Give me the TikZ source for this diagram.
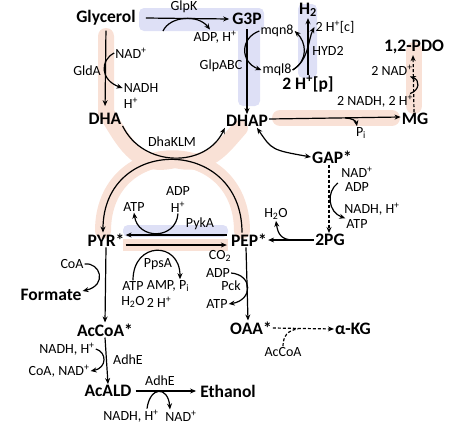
\documentclass[tikz,border=0pt]{standalone}
\usepackage{fontspec}
\setmainfont{Carlito}
\usetikzlibrary{arrows.meta}
\definecolor{hlblue}{RGB}{222,224,246}
\definecolor{hlpink}{RGB}{249,225,214}
\tikzset{
  mainlbl/.style={font=\bfseries\fontsize{17.5}{18}\selectfont, inner sep=1pt},
  smlbl/.style={font=\fontsize{14}{15}\selectfont, inner sep=1pt},
  arr/.style={-{Stealth[length=6pt,width=5pt]}, line width=1.2pt},
  dbl/.style={{Stealth[length=6pt,width=5pt]}-{Stealth[length=6pt,width=5pt]}, line width=1.2pt},
  dsh/.style={arr, dash pattern=on 3pt off 2pt},
  pinkhl/.style={draw=hlpink, line width=16pt, line cap=round},
  bluehl/.style={fill=hlblue, draw=none, rounded corners=5pt},
}
\begin{document}
\begin{tikzpicture}[x=1pt,y=-1pt]
\useasboundingbox (0,0) rectangle (474,440);
% ---------- highlights ----------
\fill[bluehl] (139,8) rectangle (264,31);
\fill[bluehl] (238,8) rectangle (260,106);
\fill[bluehl] (298,4) rectangle (317,78);
\fill[bluehl] (123,225) rectangle (228,237);
\draw[pinkhl] (106,36) -- (106,112) .. controls (128,150) and (140,168) .. (175,160) .. controls (210,168) and (222,148) .. (240,128);
\draw[pinkhl] (242,231) .. controls (242,134) and (103,134) .. (103,231);
\draw[pinkhl] (280,118) -- (392,118);
\draw[pinkhl] (414,50) -- (414,106);
\fill[hlpink] (123,239) rectangle (228,251);
% ---------- main nodes ----------
\node[mainlbl] (gly) at (106,18) {Glycerol};
\node[mainlbl] (g3p) at (247,19) {G3P};
\node[mainlbl] (h2) at (308,10) {H\textsubscript{2}};
\node[mainlbl] (hp) at (308,84) {2 H\textsuperscript{+}[p]};
\node[mainlbl] (pdo) at (414,47) {1,2-PDO};
\node[mainlbl] (dha) at (105,119) {DHA};
\node[mainlbl] (dhap) at (247,121) {DHAP};
\node[mainlbl] (mg) at (415,119) {MG};
\node[mainlbl] (gap) at (332,157) {GAP*};
\node[mainlbl] (pyr) at (106,240) {PYR*};
\node[mainlbl] (pep) at (249,240) {PEP*};
\node[mainlbl] (pg) at (330,240) {2PG};
\node[mainlbl] (formate) at (51,295) {Formate};
\node[mainlbl] (accoa) at (105,330) {AcCoA*};
\node[mainlbl] (oaa) at (251,328) {OAA*};
\node[mainlbl] (akg) at (353,329) {α-KG};
\node[mainlbl] (acald) at (108,391) {AcALD};
\node[mainlbl] (ethanol) at (228,391) {Ethanol};
% ---------- small labels ----------
\node[smlbl] (glpk) at (184,7) {GlpK};
\node[smlbl] (adph1) at (215,37) {ADP, H\textsuperscript{+}};
\node[smlbl] (mqn) at (277,31) {mqn8};
\node[smlbl] (mql) at (277,70) {mql8};
\node[smlbl] (glpabc) at (221,66) {GlpABC};
\node[smlbl] (hc) at (335,27) {2 H\textsuperscript{+}[c]};
\node[smlbl] (hyd) at (328,51) {HYD2};
\node[smlbl] (nad1) at (131,53) {NAD\textsuperscript{+}};
\node[smlbl] (glda) at (87,71) {GldA};
\node[smlbl] (nadh1) at (141,88) {NADH};
\node[smlbl] (h1) at (131,103) {H\textsuperscript{+}};
\node[smlbl] (dhaklm) at (172,142) {DhaKLM};
\node[smlbl] (pi1) at (361,133) {P\textsubscript{i}};
\node[smlbl] (nad2) at (392,70) {2 NAD\textsuperscript{+}};
\node[smlbl] (nadh2) at (375,101) {2 NADH, 2 H\textsuperscript{+}};
\node[smlbl] (nad3) at (357,172) {NAD\textsuperscript{+}};
\node[smlbl] (adp3) at (357,187) {ADP};
\node[smlbl] (nadh3) at (372,209) {NADH, H\textsuperscript{+}};
\node[smlbl] (atp3) at (357,224) {ATP};
\node[smlbl] (h2o1) at (276,214) {H\textsubscript{2}O};
\node[smlbl] (adp4) at (178,191) {ADP};
\node[smlbl] (h4) at (178,207) {H\textsuperscript{+}};
\node[smlbl] (atp4) at (134,207) {ATP};
\node[smlbl] (pyka) at (200,224) {PykA};
\node[smlbl] (ppsa) at (158,264) {PpsA};
\node[smlbl] (atp5) at (133,286) {ATP};
\node[smlbl] (amp) at (168,286) {AMP, P\textsubscript{i}};
\node[smlbl] (h2o5) at (133,302) {H\textsubscript{2}O};
\node[smlbl] (h5) at (159,302) {2 H\textsuperscript{+}};
\node[smlbl] (co2) at (220,256) {CO\textsubscript{2}};
\node[smlbl] (adp6) at (218,273) {ADP};
\node[smlbl] (pck) at (231,286) {Pck};
\node[smlbl] (atp6) at (217,304) {ATP};
\node[smlbl] (coa) at (72,264) {CoA};
\node[smlbl] (nadh7) at (67,349) {NADH, H\textsuperscript{+}};
\node[smlbl] (coanad) at (59,371) {CoA, NAD\textsuperscript{+}};
\node[smlbl] (adhe1) at (128,360) {AdhE};
\node[smlbl] (adhe2) at (160,381) {AdhE};
\node[smlbl] (nadh8) at (131,416) {NADH, H\textsuperscript{+}};
\node[smlbl] (nad8) at (181,416) {NAD\textsuperscript{+}};
\node[smlbl] (accoa2) at (283,352) {AcCoA};
% ---------- free coordinates ----------
\coordinate (k1) at (163,31);
\coordinate (w1) at (294,240);
\coordinate (p1) at (345,118);
\coordinate (j1) at (298,329);
% ---------- connectors ----------
\draw[arr] ([xshift=9pt]gly.east) -- ([xshift=-2pt]g3p.west);
\draw[arr] (k1) .. controls (170,16) and (198,14) .. ([xshift=-5pt]adph1.north);
\draw[arr, shorten <=3pt] (g3p.south) -- (dhap.north);
\draw[arr] (mqn.west) .. controls (240,38) and (240,62) .. (mql.west);
\draw[arr] (hp.north) -- (h2.south);
\draw[arr] (mql.east) .. controls (309,60) and (306,42) .. (mqn.east);
\draw[arr] (mql.east) .. controls (309,60) and (308,40) .. (hc.west);
\draw[arr] (nad1.west) .. controls (100,60) and (100,80) .. (nadh1.west);
\draw[arr, shorten <=4pt, shorten >=6pt] (gly.south) -- (dha.north);
\draw[arr] (dha.south east) .. controls (143,168) and (206,168) .. (dhap.south west);
\draw[arr] ([xshift=-7pt]pep.north) .. controls +(0,-97) and +(0,-97) .. ([xshift=-3pt]pyr.north);
\draw[arr, shorten <=3pt] ([yshift=5pt]pep.west) -- ([yshift=5pt]pyr.east);
\draw[arr, shorten >=3pt] ([yshift=-5pt]pyr.east) -- ([yshift=-5pt]pep.west);
\draw[arr] (h4.south) .. controls (176,240) and (138,240) .. (atp4.south);
\draw[arr] (atp5.north) .. controls (133,241) and (180,241) .. ([xshift=12pt]amp.north);
\draw[arr] (pyr.south) -- (accoa.north);
\draw[arr] (coa.east) .. controls (100,262) and (108,285) .. ([yshift=4pt]formate.east);
\draw[arr] (accoa.south) -- (acald.north);
\draw[arr] (nadh7.east) .. controls (107,352) and (107,368) .. (coanad.east);
\draw[arr] ([xshift=3pt]acald.east) -- ([xshift=-3pt]ethanol.west);
\draw[arr] ([xshift=16pt]nadh8.north) .. controls (150,386) and (168,386) .. ([xshift=-11pt]nad8.north);
\draw[arr] ([xshift=-3pt]pep.south) -- ([xshift=-3pt]oaa.north);
\draw[arr] (adp6.east) .. controls (253,275) and (253,300) .. (atp6.east);
\draw[dsh] (oaa.east) -- (akg.west);
\draw[line width=1.2pt, dash pattern=on 3pt off 2pt] (accoa2.north) .. controls (283,336) and (288,330) .. (j1);
\draw[arr] ([yshift=2pt]dhap.east) -- ([yshift=2pt]mg.west);
\draw[arr] (p1) .. controls (352,118) and (356,121) .. ([xshift=-4pt]pi1.north);
\draw[dsh] ([xshift=-1pt]mg.north) -- ([xshift=-1pt]pdo.south);
\draw[arr] ([xshift=-4pt]nadh2.north east) .. controls (420,90) and (420,80) .. ([xshift=-4pt]nad2.south east);
\draw[dbl] ([xshift=10pt]dhap.south) .. controls (272,150) .. (gap.west);
\draw[dsh] ([xshift=-3pt]gap.south) -- ([xshift=-1pt]pg.north);
\draw[arr] ([xshift=-6pt,yshift=4pt]adp3.west) .. controls (326,192) and (328,212) .. (atp3.north west);
\draw[arr] (pg.west) -- (pep.east);
\draw[arr] (w1) .. controls (282,240) and (278,235) .. (h2o1.south);
\end{tikzpicture}
\end{document}
